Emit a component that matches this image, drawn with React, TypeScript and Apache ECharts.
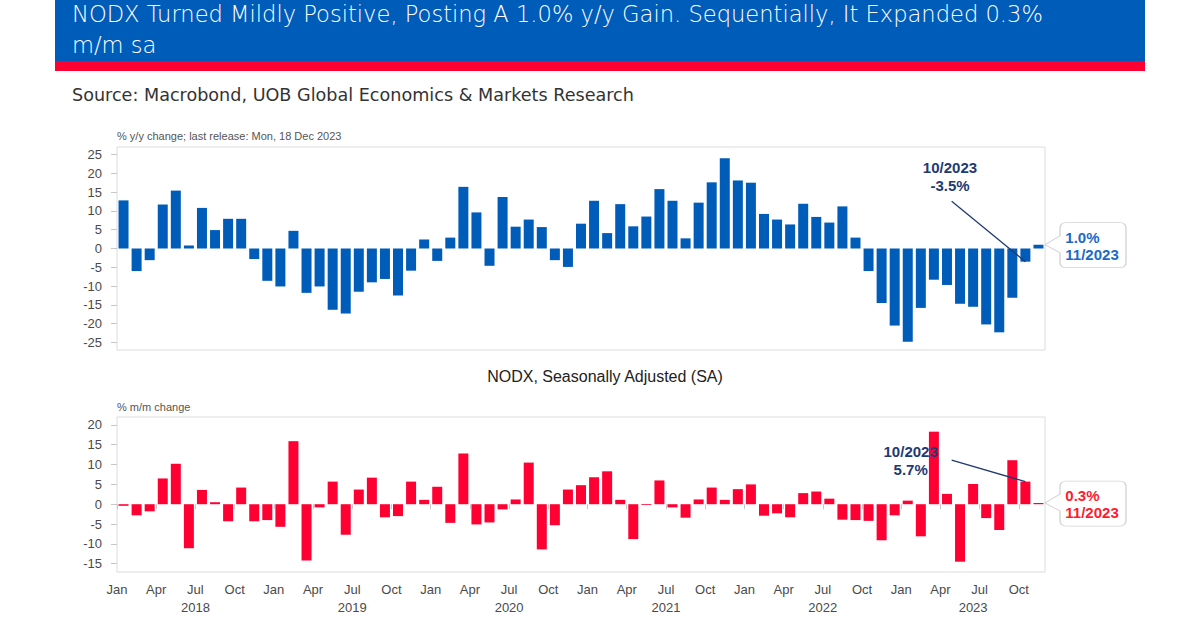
import React, { useEffect, useRef } from "react";
import * as echarts from "echarts";

// Monthly NODX growth, Jan 2018 .. Nov 2023
const yoyChange = [
  12.8, -6.0, -3.1, 11.7, 15.4, 0.8, 10.8, 4.9, 7.9, 7.9, -2.8, -8.6,
  -10.1, 4.7, -11.8, -10.1, -16.3, -17.3, -11.5, -9.0, -8.1, -12.5, -5.9, 2.4,
  -3.3, 2.9, 16.4, 9.6, -4.6, 13.7, 5.8, 7.7, 5.7, -3.1, -4.9, 6.6,
  12.7, 4.1, 11.8, 5.9, 8.5, 15.8, 12.7, 2.7, 12.2, 17.6, 24.0, 18.1,
  17.5, 9.2, 7.7, 6.4, 11.9, 8.4, 6.9, 11.2, 2.9, -6.0, -14.5, -20.5,
  -24.8, -15.8, -8.3, -9.7, -14.7, -15.5, -20.2, -22.3, -13.1, -3.5, 1.0,
];
const momChangeSA = [
  -0.4, -2.8, -1.8, 6.5, 10.2, -11.1, 3.6, 0.5, -4.3, 4.2, -4.3, -4.0,
  -5.7, 15.9, -14.2, -0.8, 5.7, -7.7, 3.7, 6.7, -3.3, -3.0, 5.7, 1.1,
  4.4, -4.7, 12.8, -5.1, -4.6, -1.3, 1.2, 10.5, -11.4, -5.3, 3.7, 4.8,
  6.8, 8.3, 1.1, -8.8, -0.2, 6.0, -0.8, -3.4, 1.2, 4.2, 1.1, 3.8,
  5.0, -2.9, -2.3, -3.3, 2.8, 3.2, 1.4, -3.9, -4.0, -4.2, -9.1, -2.8,
  0.9, -8.1, 18.3, 2.6, -14.5, 5.1, -3.5, -6.5, 11.1, 5.7, 0.3,
];
const startYear = 2018;
const quarterLabels = ["Jan", "Apr", "Jul", "Oct"];
const yearLabels = ["2018", "2019", "2020", "2021", "2022", "2023"];
const yoyTicks = [-25, -20, -15, -10, -5, 0, 5, 10, 15, 20, 25];
const momTicks = [-15, -10, -5, 0, 5, 10, 15, 20];
const seriesNames = ["Change Y/Y", "SA, Change M/M"];

const BLUE = "#005CB9";
const RED = "#FF0033";
const NAVY = "#1F3A72";
const LABEL_GREY = "#4a4a4a";
const FONT = "'Liberation Sans', Arial, sans-serif";
const HEAD_FONT = "'DejaVu Sans', 'Open Sans', sans-serif";

const monthCount = yoyChange.length;
const monthTag = (i: number) =>
  `${(i % 12) + 1}/${startYear + Math.floor(i / 12)}`;
const quarterTicks = Array.from({ length: Math.ceil(monthCount / 3) }, (_, k) => k * 3);
// each year label sits at the middle of that year's months
const yearCentres = yearLabels.map((_, k) => {
  const first = k * 12;
  const last = Math.min(first + 12, monthCount);
  return (first + last) / 2;
});

const CALLOUT =
  "path://M15,6Q15,0,21,0L75,0Q81,0,81,6L81,39Q81,45,75,45L21,45Q15,45,15,39L15,30L0,22L15,13Z";

function callout(idx: number, value: number, color: string) {
  return {
    coord: [monthCount, value],
    symbol: CALLOUT,
    symbolSize: [81, 45],
    symbolOffset: [40.5, 0.5],
    itemStyle: { color: "#fff", borderColor: "#d3d3d3", borderWidth: 1 },
    label: {
      show: true,
      position: [21, 6],
      align: "left",
      verticalAlign: "top",
      formatter: `${value.toFixed(1)}%\n${monthTag(idx)}`,
      color,
      fontFamily: FONT,
      fontWeight: "bold",
      fontSize: 15,
      lineHeight: 17.5,
    },
  };
}

function note(x: number, y: number, idx: number, value: number) {
  return {
    coord: [x, y],
    symbol: "circle",
    symbolSize: 0,
    itemStyle: { color: "transparent" },
    label: {
      show: true,
      position: "inside",
      align: "center",
      verticalAlign: "middle",
      formatter: `${monthTag(idx)}\n${value.toFixed(1)}%`,
      color: NAVY,
      fontFamily: FONT,
      fontWeight: "bold",
      fontSize: 15,
      lineHeight: 18,
    },
  };
}

export default function App() {
  const ref = useRef<HTMLDivElement>(null);

  useEffect(() => {
    if (!ref.current) return;
    const chart = echarts.init(ref.current, null, { renderer: "svg" });
    const last = monthCount - 1;
    const prev = monthCount - 2;

    const yAxisCommon = {
      type: "value",
      axisLine: { show: false },
      splitLine: { show: false },
      axisTick: { show: true, length: 6, lineStyle: { color: "#c8c8c8" } },
      axisLabel: { color: LABEL_GREY, fontSize: 13, fontFamily: FONT, margin: 15 },
    };

    chart.setOption({
      animation: false,
      backgroundColor: "#fff",
      textStyle: { fontFamily: FONT },
      grid: [
        { left: 117, right: 155, top: 147, height: 203, show: true, borderColor: "#dcdcdc", borderWidth: 1 },
        { left: 117, right: 155, top: 417, height: 155, show: true, borderColor: "#dcdcdc", borderWidth: 1 },
      ],
      xAxis: [
        {
          type: "value", gridIndex: 0, min: 0, max: monthCount,
          axisLine: { show: false }, axisTick: { show: false },
          axisLabel: { show: false }, splitLine: { show: false },
        },
        {
          type: "value", gridIndex: 1, min: 0, max: monthCount,
          axisLine: { show: false }, splitLine: { show: false },
          axisTick: { show: true, length: 5, customValues: quarterTicks, lineStyle: { color: "#c8c8c8" } },
          axisLabel: {
            customValues: quarterTicks, color: LABEL_GREY, fontSize: 13, fontFamily: FONT, margin: 11,
            formatter: (v: number) => quarterLabels[Math.round(v / 3) % 4],
          },
        },
        {
          type: "value", gridIndex: 1, min: 0, max: monthCount, position: "bottom", offset: 18,
          axisLine: { show: false }, axisTick: { show: false }, splitLine: { show: false },
          axisLabel: {
            customValues: yearCentres, color: LABEL_GREY, fontSize: 13, fontFamily: FONT, margin: 11,
            formatter: (v: number) => yearLabels[yearCentres.indexOf(v)] ?? "",
          },
        },
      ],
      yAxis: [
        {
          ...yAxisCommon, gridIndex: 0, min: -27, max: 27,
          axisTick: { ...yAxisCommon.axisTick, customValues: yoyTicks },
          axisLabel: { ...yAxisCommon.axisLabel, customValues: yoyTicks },
        },
        {
          ...yAxisCommon, gridIndex: 1, min: -17.1, max: 22,
          axisTick: { ...yAxisCommon.axisTick, customValues: momTicks },
          axisLabel: { ...yAxisCommon.axisLabel, customValues: momTicks },
        },
      ],
      legend: {
        left: 500, top: 626, itemWidth: 10, itemHeight: 10, itemGap: 20,
        icon: "rect",
        textStyle: { color: LABEL_GREY, fontSize: 13, fontFamily: FONT },
        data: seriesNames,
      },
      graphic: [
        { type: "rect", shape: { x: 55, y: 0, width: 1090, height: 61 }, style: { fill: BLUE } },
        { type: "rect", shape: { x: 55, y: 61, width: 1090, height: 10 }, style: { fill: RED } },
        {
          type: "text", x: 72, y: 13.5,
          style: {
            text: "NODX Turned Mildly Positive, Posting A 1.0% y/y Gain. Sequentially, It Expanded 0.3%",
            fill: "#fff", font: `200 22.6px ${HEAD_FONT}`, verticalAlign: "middle",
          },
        },
        {
          type: "text", x: 72, y: 45,
          style: { text: "m/m sa", fill: "#fff", font: `200 22.6px ${HEAD_FONT}`, verticalAlign: "middle" },
        },
        {
          type: "text", x: 72, y: 95,
          style: {
            text: "Source: Macrobond, UOB Global Economics & Markets Research",
            fill: "#333", font: `17.6px ${HEAD_FONT}`, verticalAlign: "middle",
          },
        },
        {
          type: "text", x: 117, y: 136,
          style: { text: "% y/y change; last release: Mon, 18 Dec 2023", fill: "#555", font: `11px ${FONT}`, verticalAlign: "middle" },
        },
        {
          type: "text", x: 117, y: 407,
          style: { text: "% m/m change", fill: "#555", font: `11px ${FONT}`, verticalAlign: "middle" },
        },
        {
          type: "text", x: 605, y: 376,
          style: { text: "NODX, Seasonally Adjusted (SA)", fill: "#222", font: `16px ${FONT}`, align: "center", verticalAlign: "middle" },
        },
      ],
      series: [
        {
          name: seriesNames[0], type: "bar", xAxisIndex: 0, yAxisIndex: 0, barWidth: 10,
          itemStyle: { color: BLUE },
          data: yoyChange.map((v, i) => [i + 0.5, v]),
          markLine: {
            silent: true, symbol: ["none", "none"], label: { show: false },
            lineStyle: { color: NAVY, width: 1.3, type: "solid" },
            data: [[{ coord: [63.86, 12.6] }, { coord: [prev + 0.5, yoyChange[prev]] }]],
          },
          markPoint: {
            silent: true,
            data: [note(63.73, 19.2, prev, yoyChange[prev]), callout(last, yoyChange[last], "#1C6AC6")],
          },
        },
        {
          name: seriesNames[1], type: "bar", xAxisIndex: 1, yAxisIndex: 1, barWidth: 10,
          itemStyle: { color: RED },
          data: momChangeSA.map((v, i) => [i + 0.5, v]),
          markLine: {
            silent: true, symbol: ["none", "none"], label: { show: false },
            lineStyle: { color: NAVY, width: 1.3, type: "solid" },
            data: [[{ coord: [63.86, 11.1] }, { coord: [prev + 0.5, momChangeSA[prev]] }]],
          },
          markPoint: {
            silent: true,
            data: [note(60.72, 11.1, prev, momChangeSA[prev]), callout(last, momChangeSA[last], "#FF1A2E")],
          },
        },
      ],
    });

    return () => chart.dispose();
  }, []);

  return (
    <div
      ref={ref}
      style={{ position: "fixed", left: 0, top: 0, width: 1200, height: 630, background: "#fff" }}
    />
  );
}
